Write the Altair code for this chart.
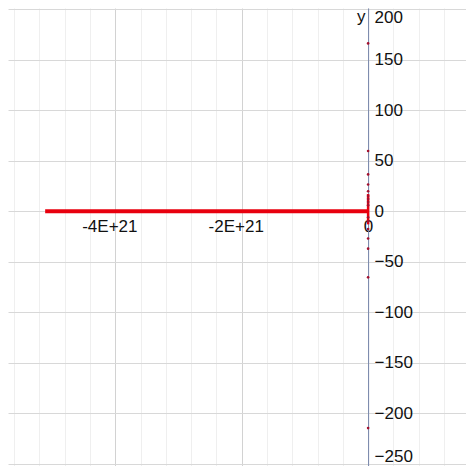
import altair as alt
import pandas as pd

# Red curve lying along the x-axis (huge x, y ~ 0)
curve_x = [-5.11e21, 0.0]
curve_y = [0.0, 0.0]

# dense red cluster on the y-axis near the origin
spike_x = [0.0, 0.0]
spike_y = [-13.0, 17.0]

# isolated points on the y-axis
dots_y = [166.0, 59.6, 36.4, 26.4, 19.8, 15.0, 12.0, 9.0, 6.0, -6.0, -10.0,
          -17.6, -27.0, -37.0, -65.4, -214.5]
dots_x = [0.0] * len(dots_y)

# axis ticks (x in units of 1E+21)
x_ticks_e21 = [-5.6, -5.2, -4.8, -4.4, -4.0, -3.6, -3.2, -2.8, -2.4, -2.0,
               -1.6, -1.2, -0.8, -0.4, 0.0, 0.4, 0.8, 1.2]
y_ticks = [-250, -200, -150, -100, -50, 0, 50, 100, 150, 200]

x_domain = [-5.698e21, 1.549e21]
y_domain = [-252.0, 201.0]

W = 458
H = 458
FONT = "Liberation Sans"
RED = "#e8000e"

x0_px = W * (0 - x_domain[0]) / (x_domain[1] - x_domain[0])
y0_px = H * (y_domain[1] - 0) / (y_domain[1] - y_domain[0])

lines_df = pd.DataFrame({
    "x": curve_x + spike_x,
    "y": curve_y + spike_y,
    "part": ["curve"] * len(curve_x) + ["spike"] * len(spike_x),
    "w": [4.0] * len(curve_x) + [2.5] * len(spike_x),
})
dots_df = pd.DataFrame({"x": dots_x, "y": dots_y})

x_axis = alt.Axis(
    orient="bottom",
    offset=-(H - y0_px),
    values=[v * 1e21 for v in x_ticks_e21],
    grid=True,
    gridColor={"condition": {"test": "abs(datum.value/2e21 - round(datum.value/2e21)) < 1e-6",
                             "value": "#d2d2d2"}, "value": "#efefef"},
    gridWidth=1,
    domain=False,
    ticks=False,
    tickSize=0,
    labelPadding=7,
    labelFont=FONT,
    labelFontSize=17,
    labelColor="#111111",
    labelOverlap=False,
    labelFlush=False,
    labelBound=False,
    labelOffset={"condition": {"test": "datum.value < 0", "value": -6}, "value": 0},
    labelExpr="abs(datum.value/2e21 - round(datum.value/2e21)) < 1e-6 ? (datum.value == 0 ? '0' : round(datum.value/1e21) + 'E+21') : ''",
    title=None,
)

y_axis = alt.Axis(
    orient="right",
    offset=-(W - x0_px),
    values=y_ticks,
    grid=True,
    gridColor="#d8d8d8",
    gridWidth=1,
    domain=True,
    domainColor="#7585aa",
    domainWidth=1,
    ticks=False,
    tickSize=0,
    labelPadding=6,
    labelFont=FONT,
    labelFontSize=17,
    labelColor="#111111",
    labelAlign="left",
    labelBaseline="middle",
    labelOverlap=False,
    labelFlush=False,
    labelOffset={"condition": [{"test": "datum.value >= 200", "value": 8},
                               {"test": "datum.value <= -250", "value": -7}], "value": 0},
    title="y",
    titleAngle=0,
    titleAlign="right",
    titleBaseline="top",
    titleX=-3,
    titleY=0,
    titleFont=FONT,
    titleFontSize=17,
    titleFontWeight="normal",
    titleColor="#111111",
)

xenc = alt.X("x:Q", scale=alt.Scale(domain=x_domain, nice=False, zero=False), axis=x_axis)
yenc = alt.Y("y:Q", scale=alt.Scale(domain=y_domain, nice=False, zero=False), axis=y_axis)

lines = alt.Chart(lines_df).mark_line(color=RED, strokeCap="butt", clip=True).encode(
    x=xenc, y=yenc, detail="part:N",
    strokeWidth=alt.StrokeWidth("w:Q", scale=None, legend=None),
)

dots = alt.Chart(dots_df).mark_point(filled=True, color="#a3102e", size=7, opacity=1, clip=True).encode(
    x=xenc, y=yenc,
)

chart = alt.layer(lines, dots).properties(
    width=W, height=H,
    autosize=alt.AutoSizeParams(type="none"),
    padding=0,
    background="white",
).configure_view(strokeWidth=0)

chart.save("out.html", embed_options={"renderer": "svg", "actions": False})
